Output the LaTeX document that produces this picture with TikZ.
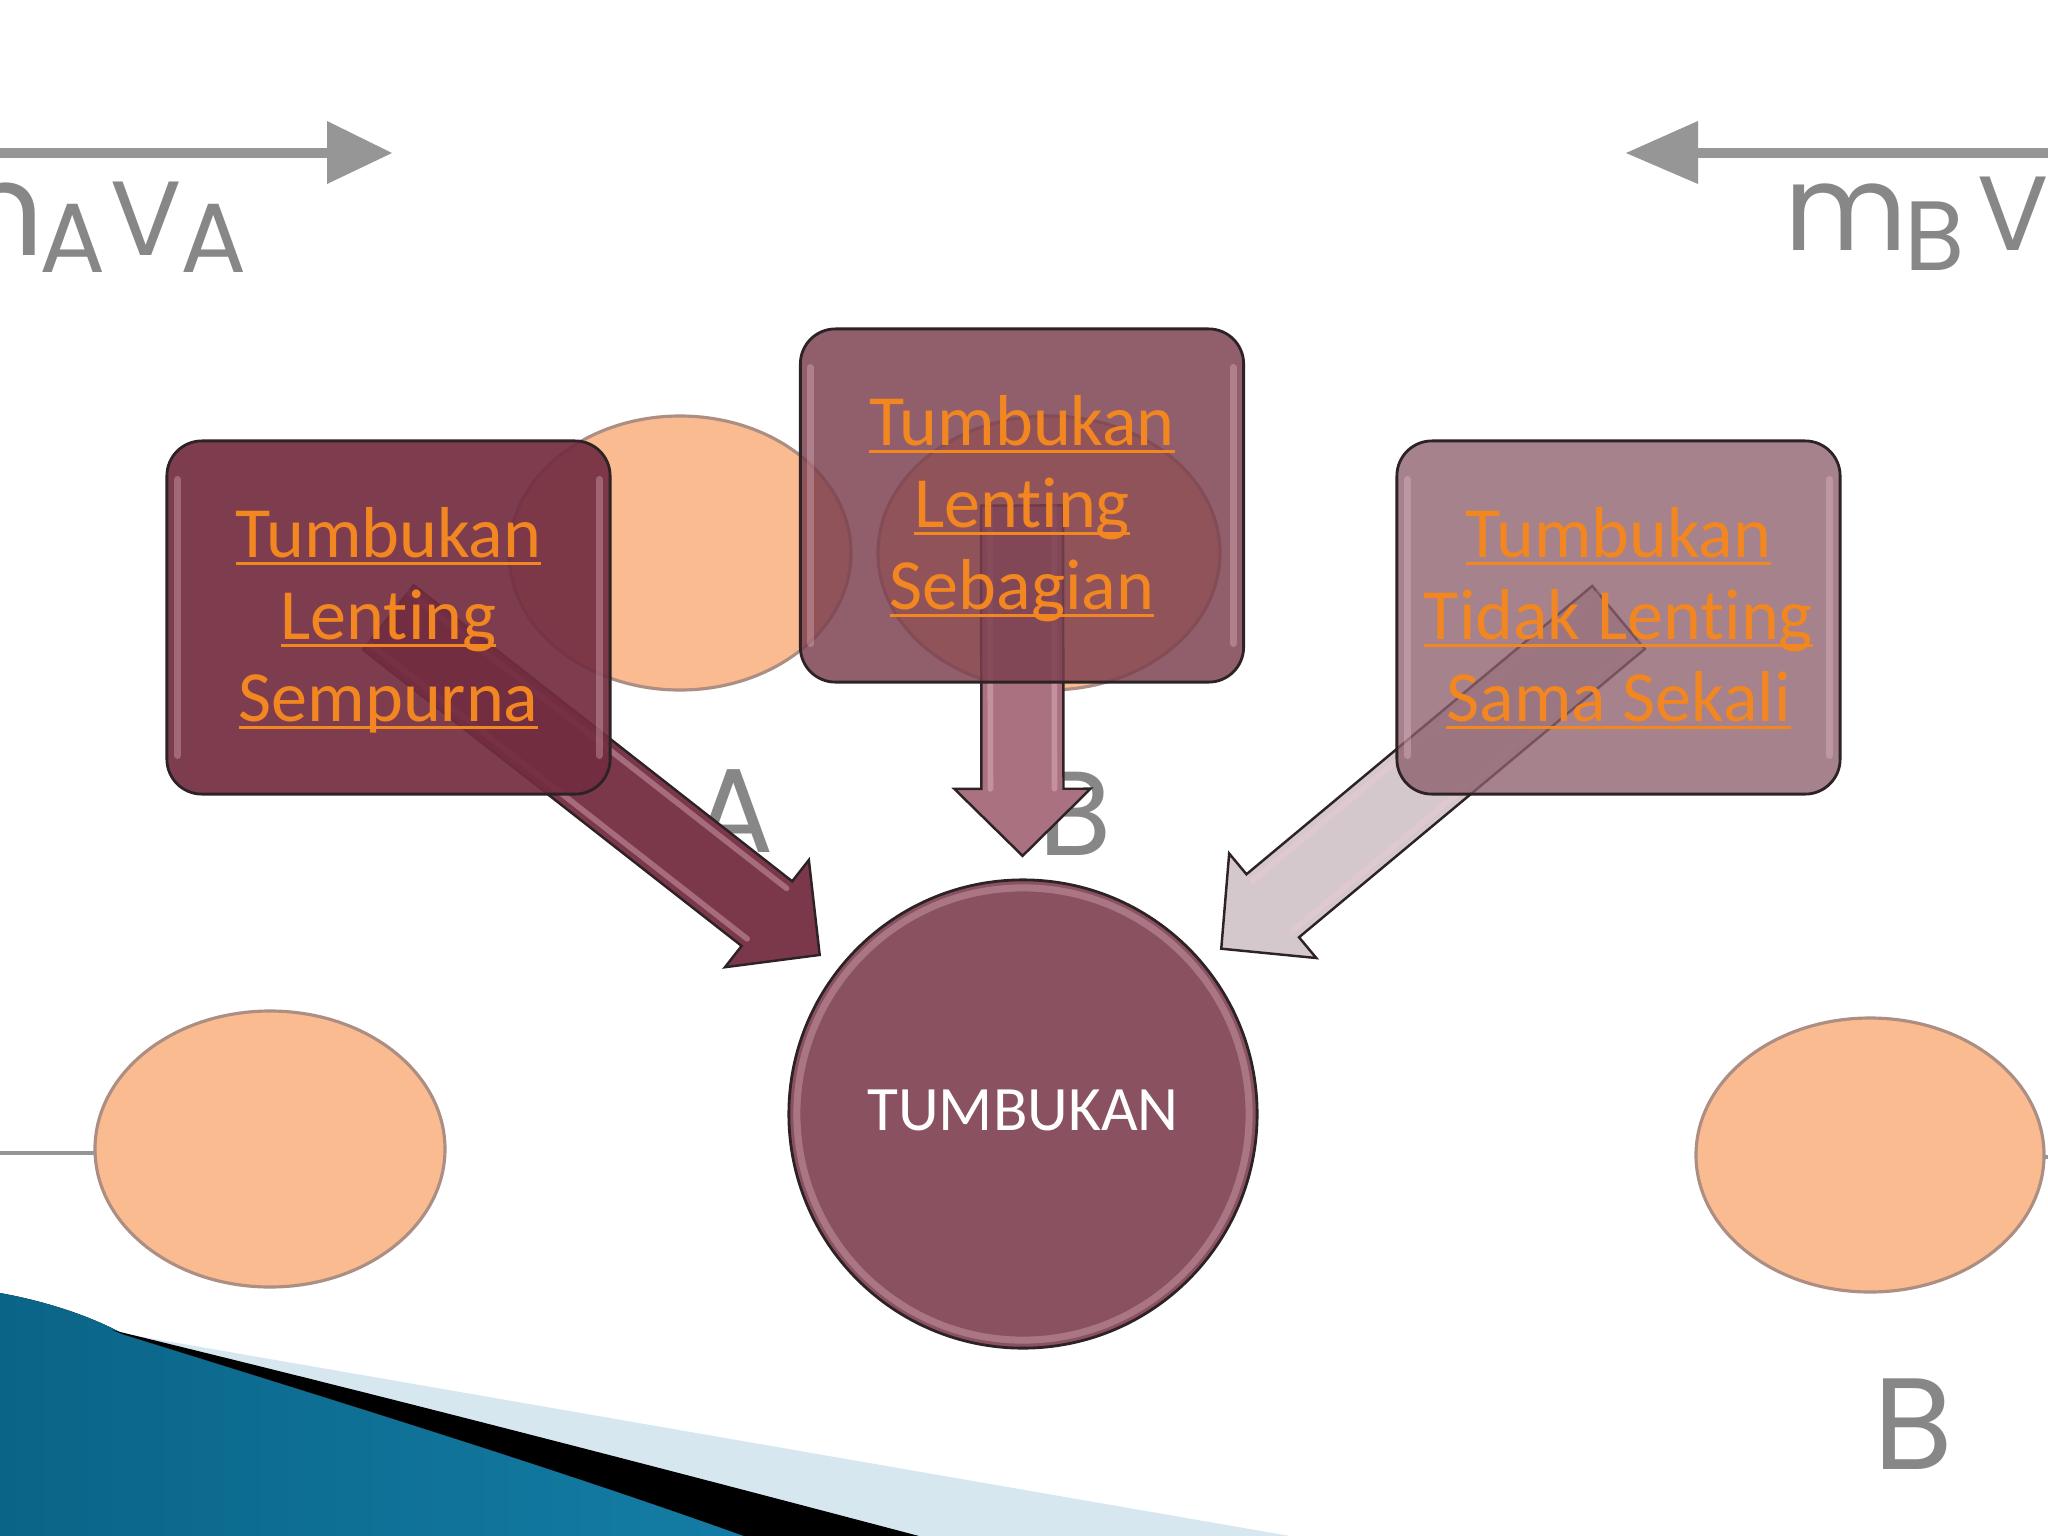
\documentclass[tikz,border=0pt]{standalone}
\usepackage{fontspec}
\setmainfont{Carlito}[RawFeature={-liga;-clig;-dlig}]
\newfontfamily\bgfont{Poppins}
\usetikzlibrary{calc}
\definecolor{bgtext}{RGB}{135,135,135}
\definecolor{bgline}{RGB}{150,150,150}
\definecolor{ballfill}{RGB}{251,187,144}
\definecolor{balledge}{RGB}{172,142,130}
\definecolor{boxone}{RGB}{114,45,65}
\definecolor{boxtwo}{RGB}{123,63,78}
\definecolor{boxthree}{RGB}{140,95,108}
\definecolor{circfill}{RGB}{138,81,97}
\definecolor{arrowone}{RGB}{124,56,75}
\definecolor{arrowtwo}{RGB}{170,114,128}
\definecolor{arrowthree}{RGB}{212,200,204}
\definecolor{outl}{RGB}{45,35,38}
\definecolor{glosspink}{RGB}{245,205,215}
\definecolor{linkorange}{RGB}{242,134,32}
\definecolor{swdark}{RGB}{10,100,135}
\definecolor{swlight}{RGB}{85,185,220}
\definecolor{swmid}{RGB}{20,125,165}
\definecolor{swpale}{RGB}{214,231,240}
\pgfdeclarelayer{bglayer}
\pgfdeclarelayer{arrowlayer}
\pgfsetlayers{bglayer,arrowlayer,main}
\newlength\myulw
\newcommand\myul[1]{\settowidth\myulw{#1}\makebox[0pt][l]{\rule[-2.1pt]{\myulw}{0.85pt}}#1}
\newcommand\myarrow[3]{%
  \coordinate (#1-n) at ($(#2.center)!3.25cm!(#1.center)$);
  \coordinate (#1-t) at ($(#2.center)!2.58cm!(#1.center)$);
  \filldraw[fill=#3, arrowline] ($(#1.center)!0.41cm!-90:(#2.center)$)
    -- ($(#1-n)!0.41cm!90:(#1.center)$) -- ($(#1-n)!0.68cm!90:(#1.center)$)
    -- (#1-t) -- ($(#1-n)!0.68cm!-90:(#1.center)$) -- ($(#1-n)!0.41cm!-90:(#1.center)$)
    -- ($(#1.center)!0.41cm!90:(#2.center)$) -- cycle;
  \draw[arrowgloss] ($(#1-n)!0.32cm!90:(#1.center)$) -- ($(#1.center)!0.32cm!-90:(#2.center)$);
  \draw[arrowgloss] ($(#1-n)!0.32cm!-90:(#1.center)$) -- ($(#1.center)!0.32cm!90:(#2.center)$);}
\tikzset{
  boxbase/.style={draw=outl, line width=0.8pt, rounded corners=0.35cm, minimum width=4.43cm, minimum height=3.53cm, inner sep=0pt},
  linktext/.style={text=linkorange, font=\fontsize{20.5}{23}\selectfont, anchor=base, inner sep=0pt},
  bgtxt/.style={text=bgtext, inner sep=0pt, anchor=base west},
  ballstyle/.style={fill=ballfill, draw=balledge, line width=0.9pt},
  arrowline/.style={draw=outl, line width=0.7pt, line join=miter},
  arrowgloss/.style={glosspink, opacity=0.35, line width=1.6pt, line cap=round},
  gloss/.style={glosspink, opacity=0.3, line width=2pt, line cap=round},
}
\begin{document}
\begin{tikzpicture}[x=0.01cm,y=-0.01cm]
\useasboundingbox (0,0) rectangle (2048,1536);

% ---------- background picture ----------
\begin{pgfonlayer}{bglayer}
\begin{scope}
\clip (0,0) rectangle (2048,1536);
\fill[white] (0,0) rectangle (2048,1536);
% top arrows
\draw[bgline, line width=2.8pt] (0,153) -- (330,153);
\fill[bgline] (327,121) -- (392,153) -- (327,184) -- cycle;
\draw[bgline, line width=2.8pt] (1695,153) -- (2048,153);
\fill[bgline] (1698,121) -- (1626,153) -- (1698,184) -- cycle;
% momentum labels
\node[bgtxt, font=\bgfont\fontsize{37}{37}\selectfont] (mA) at (-90,255) {m};
\node[bgtxt, font=\bgfont\fontsize{28}{28}\selectfont] (sA1) at (39,272) {A};
\node[bgtxt, font=\bgfont\fontsize{30}{30}\selectfont] (vA) at (110,255) {V};
\node[bgtxt, font=\bgfont\fontsize{28}{28}\selectfont] (sA2) at (180,272) {A};
\node[bgtxt, font=\bgfont\fontsize{34}{34}\selectfont] (mB) at (1784,250) {m};
\node[bgtxt, font=\bgfont\fontsize{28}{28}\selectfont] (sB) at (1904,270) {B};
\node[bgtxt, font=\bgfont\fontsize{30}{30}\selectfont] (vB) at (1977,250) {V};
% balls
\draw[ballstyle] (680,553) ellipse (171 and 137);
\draw[ballstyle] (1049,553) ellipse (171 and 137);
\draw[ballstyle] (270,1149) ellipse (175 and 138);
\draw[ballstyle] (1870,1155) ellipse (174 and 137);
\draw[bgline, line width=1.4pt] (0,1153) -- (95,1153);
\draw[bgline, line width=1.4pt] (2044,1157) -- (2048,1157);
\node[bgtxt, font=\bgfont\fontsize{34}{34}\selectfont] (labA) at (693,852) {A};
\node[bgtxt, font=\bgfont\fontsize{34}{34}\selectfont] (labB) at (1038,855) {B};
\node[bgtxt, font=\bgfont\fontsize{37}{37}\selectfont] (labB2) at (1873,1469) {B};
% swoosh
\fill[swpale] (120,1333) -- (1290,1536) -- (900,1536) -- cycle;
\fill[left color=swdark, middle color=swlight, right color=swmid]
  (0,1293) .. controls (50,1302) and (95,1318) .. (125,1335)
  .. controls (350,1405) and (560,1470) .. (744,1536) -- (0,1536) -- cycle;
\fill[black] (112,1330) .. controls (117,1332) .. (125,1335)
  .. controls (350,1405) and (560,1470) .. (744,1536) -- (919,1536)
  .. controls (650,1465) and (380,1395) .. (112,1330) -- cycle;
\end{scope}
\end{pgfonlayer}

% ---------- boxes and circle ----------
\node[boxbase, fill=boxone, fill opacity=0.92] (b1) at (388.5,617.5) {};
\node[boxbase, fill=boxtwo, fill opacity=0.83] (b2) at (1022,505.5) {};
\node[boxbase, fill=boxthree, fill opacity=0.78] (b3) at (1618.5,617.5) {};
\node[circle, draw=outl, line width=0.8pt, fill=circfill, minimum size=4.68cm, inner sep=0pt] (c) at (1023,1114) {};

\foreach \b in {b1,b2,b3}{
  \draw[gloss] ($(\b.north west)+(12,40)$) -- ($(\b.south west)+(12,-40)$);
  \draw[gloss] ($(\b.north east)+(-12,40)$) -- ($(\b.south east)+(-12,-40)$);
}
\draw[glosspink, opacity=0.3, line width=2pt] (c.center) circle (2.26cm);

% ---------- connectors ----------
\begin{pgfonlayer}{arrowlayer}
\myarrow{b1}{c}{arrowone}
\myarrow{b2}{c}{arrowtwo}
\myarrow{b3}{c}{arrowthree}
\end{pgfonlayer}

% ---------- texts ----------
\node[linktext] (b1l1) at ($(b1.center)+(0,-60)$) {\myul{Tumbukan}};
\node[linktext] (b1l2) at ($(b1.center)+(0,22)$) {\myul{Lenting}};
\node[linktext] (b1l3) at ($(b1.center)+(0,104)$) {\myul{Sempurna}};
\node[linktext] (b2l1) at ($(b2.center)+(0,-60)$) {\myul{Tumbukan}};
\node[linktext] (b2l2) at ($(b2.center)+(0,22)$) {\myul{Lenting}};
\node[linktext] (b2l3) at ($(b2.center)+(0,104)$) {\myul{Sebagian}};
\node[linktext] (b3l1) at ($(b3.center)+(0,-60)$) {\myul{Tumbukan}};
\node[linktext] (b3l2) at ($(b3.center)+(0,22)$) {\myul{Tidak Lenting}};
\node[linktext] (b3l3) at ($(b3.center)+(0,104)$) {\myul{Sama Sekali}};
\node[text=white, font=\fontsize{18}{20}\selectfont, inner sep=0pt] (ct) at ($(c.center)+(0,-4)$) {TUMBUKAN};
\end{tikzpicture}
\end{document}
